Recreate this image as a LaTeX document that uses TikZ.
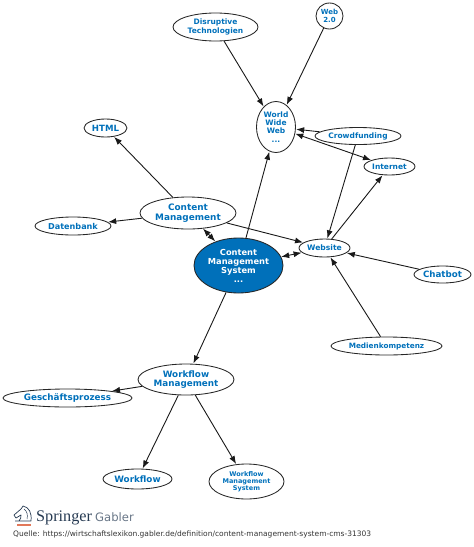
\documentclass[tikz,border=0pt]{standalone}
\usepackage{fontspec}
\setmainfont{DejaVu Sans}
\newfontfamily\logofont{Liberation Serif}
\usepackage{xcolor}
\usetikzlibrary{arrows.meta,shapes.geometric}
\definecolor{gablerblue}{RGB}{0,112,186}
\definecolor{gablerink}{RGB}{38,58,82}
\definecolor{gablerred}{RGB}{226,120,90}
\newcommand{\topicfont}[1]{\bfseries\fontsize{#1}{\dimexpr#1pt*108/100\relax}\selectfont}
\tikzset{
  topic/.style={draw=black!85,ellipse,line width=0.85pt,inner sep=0pt,align=center,text=gablerblue,font=\topicfont{#1}},
  topic/.default=7.5,
  link/.style={draw=black!90,line width=0.9pt,-{Latex[length=8pt,width=6pt]},shorten >=0.3pt},
  both/.style={link,{Latex[length=8pt,width=6pt]}-{Latex[length=8pt,width=6pt]}}
}
\begin{document}
\begin{tikzpicture}[x=1pt,y=-1pt]
\useasboundingbox (0,0) rectangle (474,547);
\node[topic=7.5,minimum width=85pt,minimum height=28pt] (disruptive) at (215.5,27) {Disruptive\\Technologien};
\node[topic=7,minimum width=27pt,minimum height=26pt] (web) at (329.5,16) {Web\\2.0};
\node[topic=7.5,minimum width=39pt,minimum height=51pt] (www) at (276,127) {World\\Wide\\Web\\...};
\node[topic=7.5,minimum width=86pt,minimum height=17pt] (crowd) at (358,136) {Crowdfunding};
\node[topic=7.5,minimum width=51pt,minimum height=17pt] (internet) at (389.5,166.5) {Internet};
\node[topic=8.6,minimum width=43pt,minimum height=18pt] (html) at (105.5,128) {HTML};
\node[topic=8.9,minimum width=96pt,minimum height=32pt] (cm) at (188,213) {Content\\Management};
\node[topic=8.1,minimum width=76pt,minimum height=18pt] (datenbank) at (73,226) {Datenbank};
\node[topic=8.3,fill=gablerblue,text=white,minimum width=89pt,minimum height=55pt] (cms) at (238.5,265.5) {Content\\Management\\System\\...};
\node[topic=7.6,minimum width=51pt,minimum height=18pt] (website) at (324.5,248) {Website};
\node[topic=8.7,minimum width=57pt,minimum height=17pt] (chatbot) at (442.5,274.5) {Chatbot};
\node[topic=7.3,minimum width=111pt,minimum height=18pt] (medien) at (386.5,346) {Medienkompetenz};
\node[topic=8.8,minimum width=96pt,minimum height=31pt] (wm) at (186,379.5) {Workflow\\Management};
\node[topic=8.8,minimum width=129pt,minimum height=18pt] (prozess) at (67.5,398) {Geschäftsprozess};
\node[topic=8.8,minimum width=69pt,minimum height=20pt] (workflow) at (137.5,479) {Workflow};
\node[topic=6.5,minimum width=75pt,minimum height=35pt] (wms) at (246.5,481.5) {Workflow\\Management\\System};
% links
\draw[link] (disruptive) -- (www);
\draw[link] (web) -- (www);
\draw[link] (crowd) -- (www);
\draw[link] (crowd) -- (website);
\draw[both] (www) -- (internet);
\draw[link] (website) -- (internet);
\draw[link] (cms) -- (www);
\draw[both] (cm) -- (cms);
\draw[both] (cms) -- (website);
\draw[link] (cm) -- (website);
\draw[link] (cm) -- (html);
\draw[link] (cm) -- (datenbank);
\draw[link] (chatbot) -- (website);
\draw[link] (medien) -- (website);
\draw[link] (cms) -- (wm);
\draw[link] (wm) -- (prozess);
\draw[link] (wm) -- (workflow);
\draw[link] (wm) -- (wms);
% logo
\node[anchor=base west,inner sep=0pt,text=gablerink,font=\logofont\fontsize{16.2}{18}\selectfont] (springer) at (36,521) {Springer};
\node[anchor=base west,inner sep=0pt,text=gablerink!70,font=\fontsize{11.6}{14}\selectfont] (gabler) at (95,521) {Gabler};
\draw[gablerink,line width=0.7pt,line join=round] (15,521) -- (31,521) .. controls (32,513) and (29,507) .. (23,506) -- (21,509) -- (14,515) -- (16,518) -- (21,515) .. controls (22,517) and (20,519) .. (19,521);
\draw[gablerink,line width=0.5pt] (24,509) .. controls (27,511) and (28,515) .. (27,519);
\draw[gablerred,line width=1.3pt] (17,525) -- (31,525);
\node[anchor=west,inner sep=0pt,text=black!80,font=\fontsize{7.5}{9}\selectfont] (source) at (13,534) {Quelle: https://wirtschaftslexikon.gabler.de/definition/content-management-system-cms-31303};
\end{tikzpicture}
\end{document}
